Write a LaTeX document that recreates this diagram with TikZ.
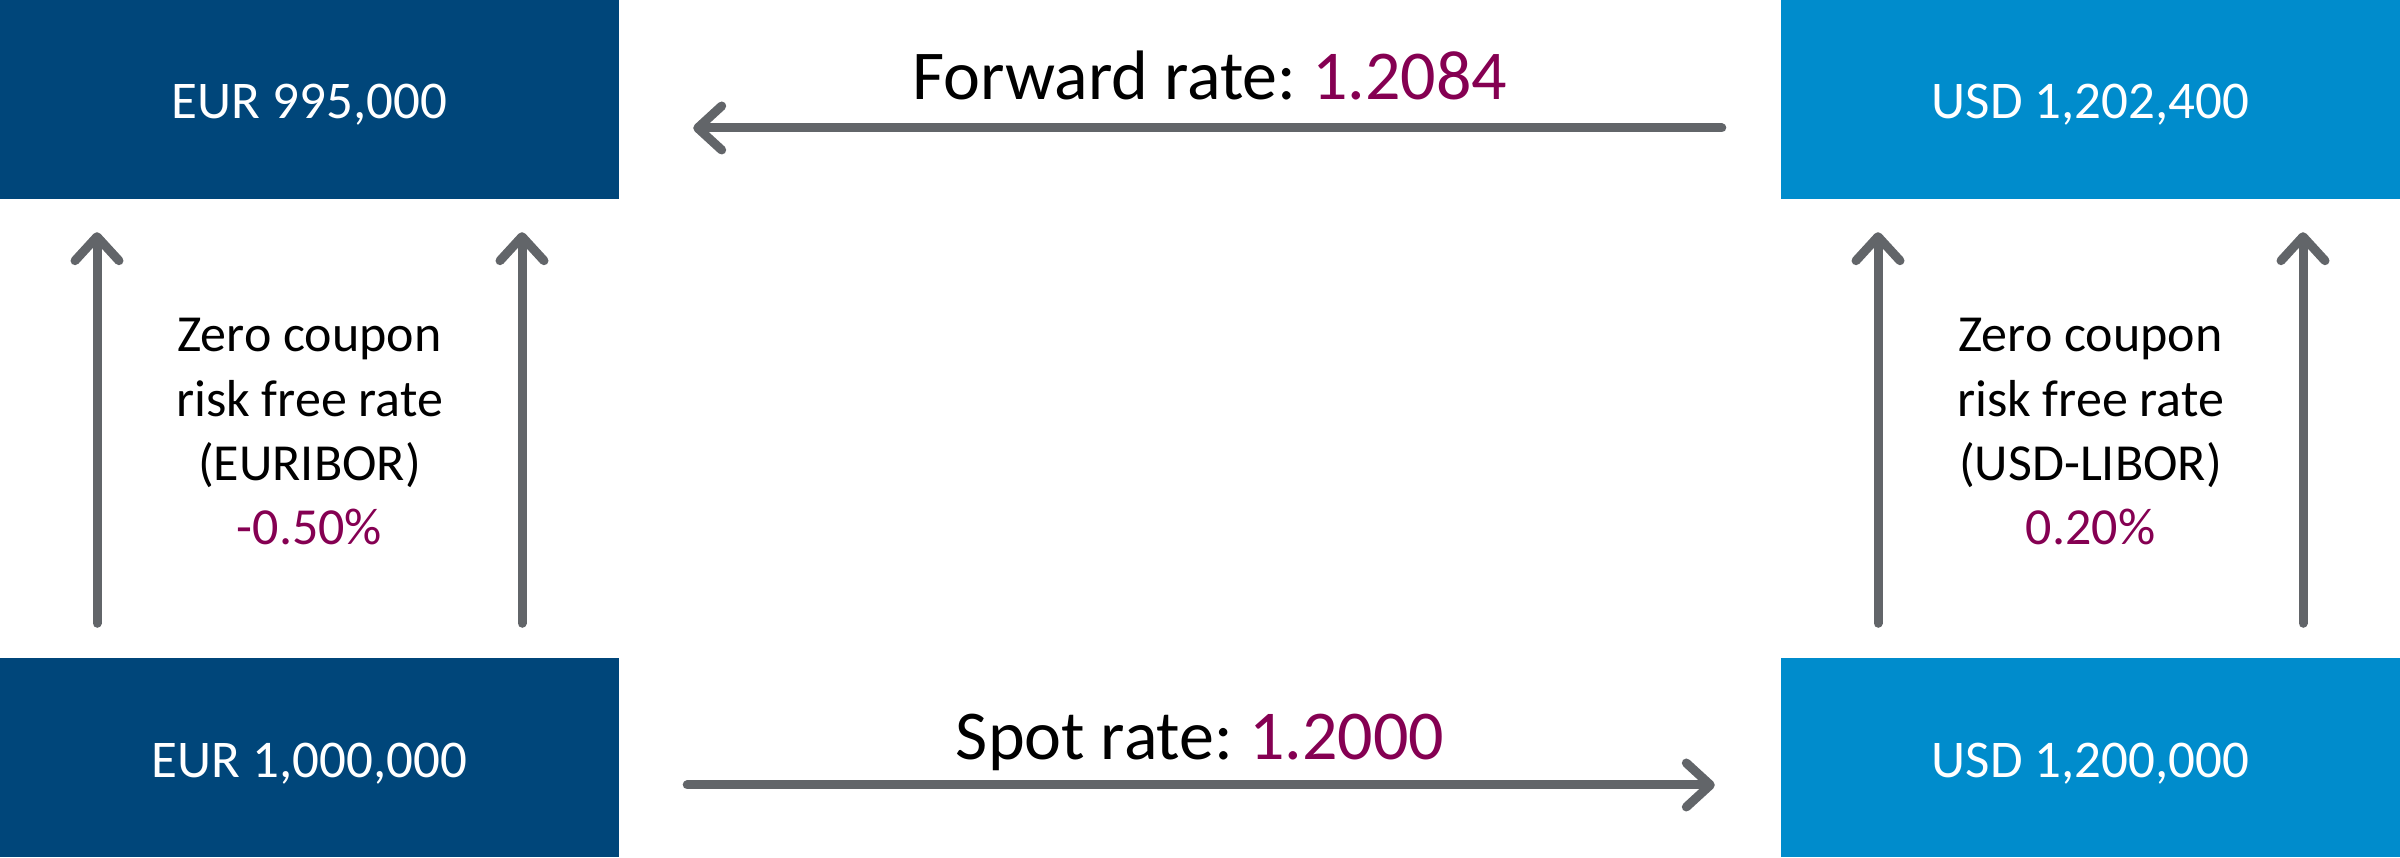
\documentclass[tikz,border=0pt]{standalone}
\usepackage{fontspec}
\setmainfont{Carlito}
\frenchspacing
\usetikzlibrary{arrows.meta}
\definecolor{darkblue}{HTML}{00467A}
\definecolor{lightblue}{HTML}{008CCC}
\definecolor{arrowgray}{HTML}{626569}
\definecolor{ratemag}{HTML}{850052}
\begin{document}
\begin{tikzpicture}[x=1pt,y=1pt,
 box/.style={minimum width=619pt, minimum height=199pt, inner sep=0pt, text=white,
   font=\fontsize{53}{62}\selectfont, text height=39pt, text depth=0pt},
 eurbox/.style={box, fill=darkblue},
 usdbox/.style={box, fill=lightblue},
 conn/.style={draw=arrowgray, line width=9pt, line cap=round, line join=round,
   -{Straight Barb[length=24pt,width=44pt,round]}},
 side/.style={font=\fontsize{52}{64}\selectfont, anchor=base, inner sep=0pt},
 sidepct/.style={side, text=ratemag},
 rate/.style={font=\fontsize{70}{84}\selectfont, anchor=base, inner sep=0pt}]
\useasboundingbox (0,0) rectangle (2400,858);
% boxes
\node[eurbox] (eurT) at (309.5,758.5) {EUR 995,000};
\node[usdbox] (usdT) at (2090.5,758.5) {USD 1,202,400};
\node[eurbox] (eurB) at (309.5,100) {EUR 1,000,000};
\node[usdbox] (usdB) at (2090.5,100) {USD 1,200,000};
% vertical arrows
\draw[conn, shorten <=35pt, shorten >=33pt] ([xshift=-212.5pt]eurB.north) -- ([xshift=-212.5pt]eurT.south);
\draw[conn, shorten <=35pt, shorten >=33pt] ([xshift=212.5pt]eurB.north) -- ([xshift=212.5pt]eurT.south);
\draw[conn, shorten <=35pt, shorten >=33pt] ([xshift=-212.5pt]usdB.north) -- ([xshift=-212.5pt]usdT.south);
\draw[conn, shorten <=35pt, shorten >=33pt] ([xshift=212.5pt]usdB.north) -- ([xshift=212.5pt]usdT.south);
% horizontal arrows
\draw[conn, shorten <=59pt, shorten >=74pt] ([yshift=-28.5pt]usdT.west) -- ([yshift=-28.5pt]eurT.east);
\draw[conn, shorten <=68pt, shorten >=66pt] ([yshift=-27pt]eurB.east) -- ([yshift=-27pt]usdB.west);
% rate labels
\node[rate] (fwd) at (1210,758) {Forward rate: \textcolor{ratemag}{1.2084}};
\node[rate] (spot) at (1200,98) {Spot rate: \textcolor{ratemag}{1.2000}};
% left side text
\node[side] (l1) at (309.5,506) {Zero coupon};
\node[side] (l2) at (309.5,441.5) {risk free rate};
\node[side] (l3) at (309.5,377) {(EURIBOR)};
\node[sidepct] (l4) at (309.5,313) {-0.50\%};
% right side text
\node[side] (r1) at (2090.5,506) {Zero coupon};
\node[side] (r2) at (2090.5,441.5) {risk free rate};
\node[side] (r3) at (2090.5,377) {(USD-LIBOR)};
\node[sidepct] (r4) at (2090.5,313) {0.20\%};
\end{tikzpicture}
\end{document}
